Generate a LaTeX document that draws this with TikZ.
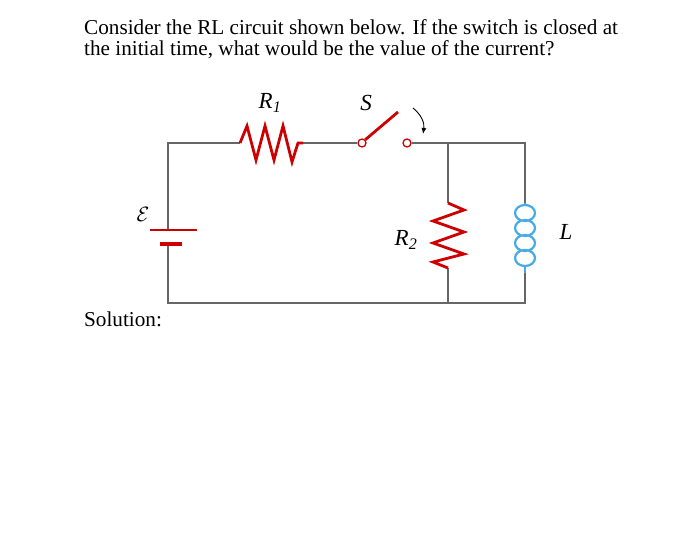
\documentclass[tikz,border=0pt]{standalone}
\usepackage{fontspec}
\setmainfont{Liberation Serif}
\usetikzlibrary{positioning}
\usetikzlibrary{arrows.meta}
\begin{document}
\begin{tikzpicture}[x=1pt,y=-1pt]
    \tikzset{wire/.style={draw=black!60, line width=1.4pt},
             part/.style={draw=red!80!black, line width=2.8pt},
             label/.style={font=\fontsize{23}{23}\selectfont\itshape},
             txt/.style={font=\fontsize{21.2}{24}\selectfont, anchor=west, inner sep=0pt}}
    \definecolor{Coil_blue}{RGB}{70,170,230}
    \useasboundingbox (0,0) rectangle (700,545);

    % Aufgabentext
    \node[txt] (line1) at (84,27) {Consider the RL circuit shown below. If the switch is closed at};
    \node[txt] (line2) at (84,50) {the initial time, what would be the value of the current?};
    \node[txt] (sol) at (84,319) {Solution:};

    % Eckpunkte
    \coordinate (tl) at (168,143);
    \coordinate (bl) at (168,303);
    \coordinate (r1a) at (240,143);
    \coordinate (r1b) at (303,143);
    \coordinate (jt) at (448,143);
    \coordinate (jb) at (448,303);
    \coordinate (tr) at (525,143);
    \coordinate (br) at (525,303);
    \coordinate (r2a) at (448,203);
    \coordinate (r2b) at (448,268);
    \coordinate (la) at (525,203);
    \coordinate (lb) at (525,273);
    \coordinate (bp) at (168,230);
    \coordinate (bn) at (168,244);

    % Schalter
    \node[circle, draw=red!80!black, line width=1.3pt, fill=white, minimum size=8pt, inner sep=0pt] (sa) at (362,143) {};
    \node[circle, draw=red!80!black, line width=1.3pt, fill=white, minimum size=8pt, inner sep=0pt] (sb) at (407,143) {};
    \coordinate (blade) at (398,112);

    % Leitungen
    \draw[wire] (bp) -- (tl) -- (r1a);
    \draw[wire] (r1b) -- (sa.west);
    \draw[wire] (sb.east) -- (jt) -- (tr) -- (la);
    \draw[wire] (jt) -- (r2a);
    \draw[wire] (r2b) -- (jb);
    \draw[wire] (lb) -- (br) -- (bl) -- (bn);

    % Widerstaende
    \draw[part, line join=miter] (r1a) -- (247,126) -- (256,160) -- (265,126) -- (274,160) -- (283,126) -- (292,162) -- (298,143) -- (r1b);
    \draw[part, line join=miter] (r2a) -- (464,210) -- (433,221) -- (464,232) -- (433,243) -- (464,254) -- (433,262) -- (r2b);
    \draw[part] (sa.north east) -- (blade);

    % Batterie
    \draw[red!80!black, line width=1.3pt] (150,230) -- (197,230);
    \draw[red!80!black, line width=4pt] (160,244) -- (182,244);

    % Spule
    \draw[Coil_blue, line width=2.2pt] (la) -- (525,205)
        \foreach \k in {0,...,3} {
            arc[start angle=-90, end angle=270, x radius=10, y radius=8]
            ++(0,15)
        };
    \draw[Coil_blue, line width=2.2pt] (525,266) -- (lb);

    % Pfeil
    \draw[-{Latex[length=6pt,width=5pt]}, line width=0.9pt] (413,108) to[bend left=30] (423,134);

    % Beschriftungen
    \node[label] (lr1) at (270,103) {R\textsubscript{1}};
    \node[label] (ls) at (366,103) {S};
    \node[label] (lr2) at (406,240) {R\textsubscript{2}};
    \node[label] (ll) at (566,232) {L};
    \node[font=\fontsize{22}{22}\selectfont] (le) at (143,214) {$\mathcal{E}$};
\end{tikzpicture}
\end{document}
